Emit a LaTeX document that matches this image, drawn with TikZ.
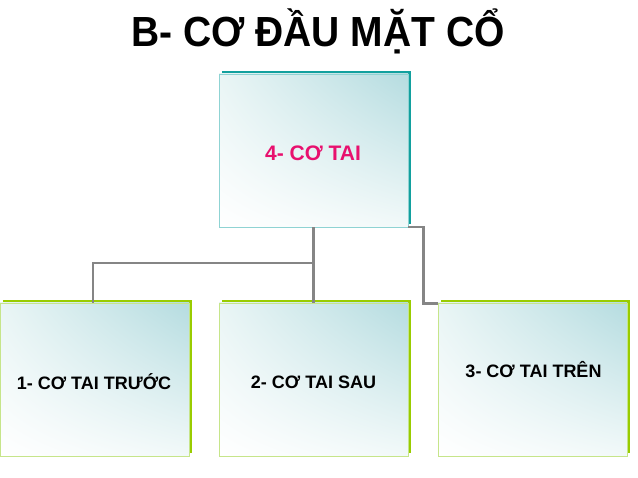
\documentclass[tikz,border=0pt]{standalone}
\usepackage{fontspec}
\setmainfont{Liberation Sans}
\usetikzlibrary{shadows,shadings}
\definecolor{tealc}{HTML}{12A09E}
\definecolor{tealthin}{HTML}{8FD3D3}
\definecolor{greenc}{HTML}{99CC00}
\definecolor{greenthin}{HTML}{C6E58A}
\definecolor{shadec}{HTML}{B5DCE0}
\definecolor{shadel}{HTML}{E9F5F5}
\definecolor{magc}{HTML}{E8106E}
\definecolor{linec}{HTML}{858585}
\tikzset{
  box/.style={rectangle, minimum width=189pt, minimum height=153pt, inner sep=0pt,
    line width=0.8pt,
    upper right=shadec, upper left=shadel, lower left=white, lower right=shadel!60!white},
  topbox/.style={box, draw=tealthin, general shadow={shadow xshift=3pt, shadow yshift=3pt, fill=tealc}},
  botbox/.style={box, draw=greenthin, general shadow={shadow xshift=3pt, shadow yshift=3pt, fill=greenc}},
  conn/.style={draw=linec, line width=2.2pt},
  title/.style={font=\bfseries\fontsize{39}{46}\selectfont, inner sep=0pt, yscale=1.08, transform shape},
  lbl/.style={font=\bfseries\fontsize{18}{21}\selectfont, inner sep=0pt}
}
\begin{document}
\begin{tikzpicture}[x=1pt,y=-1pt]
\useasboundingbox[fill=white] (0,0) rectangle (638,478);
\node[title] (ttl) at (318,31) {B- CƠ ĐẦU MẶT CỔ};
\node[topbox] (t) at (313.5,150.5) {};
\node[lbl, font=\bfseries\fontsize{21}{24}\selectfont, text=magc] (tl) at (313,153) {4- CƠ TAI};
\node[botbox] (b1) at (94.5,379.5) {};
\node[botbox] (b2) at (313.5,379.5) {};
\node[botbox] (b3) at (532.5,379.5) {};
\node[lbl] (l1) at (94,382) {1- CƠ TAI TRƯỚC};
\node[lbl] (l2) at (313.5,382) {2- CƠ TAI SAU};
\node[lbl] (l3) at (533.5,370) {3- CƠ TAI TRÊN};
\coordinate (j) at (313.5,263);
\draw[conn] (t.south) -- (b2.north);
\draw[conn] (j) -| ([xshift=-1.5pt]b1.north);
\draw[conn] (t.south east) -- ++(15,0) |- ([yshift=-1pt]b3.north west);
\end{tikzpicture}
\end{document}
